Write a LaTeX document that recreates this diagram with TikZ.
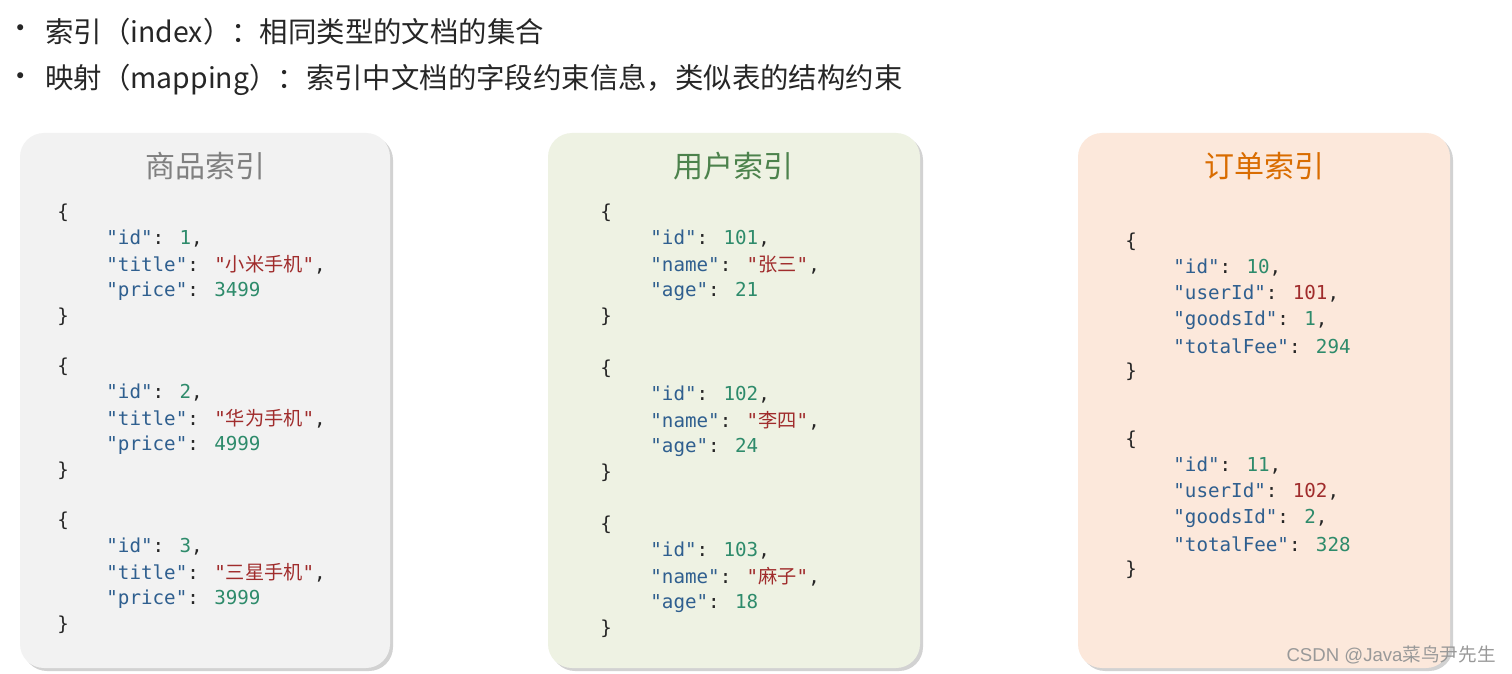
\documentclass[tikz,border=0pt]{standalone}
\usepackage{fontspec}
\setmainfont{Noto Sans CJK SC}
\newfontfamily\cjk{Noto Sans CJK SC}
\newfontfamily\mono{DejaVu Sans Mono}
\newfontfamily\wm{Liberation Sans}
\usetikzlibrary{shadows}
\definecolor{kc}{HTML}{2F5F8F}
\definecolor{sc}{HTML}{A02C2C}
\definecolor{nc}{HTML}{2E8B6B}
\definecolor{gbox}{HTML}{F2F2F2}
\definecolor{gnbox}{HTML}{EEF2E3}
\definecolor{obox}{HTML}{FCE8DB}
\newcommand{\jk}[1]{\textcolor{kc}{"#1"}}
\newcommand{\js}[1]{\textcolor{sc}{"{\cjk #1}"}}
\newcommand{\jn}[1]{\textcolor{nc}{#1}}
\begin{document}
\begin{tikzpicture}[x=0.5pt,y=-0.5pt,
  box/.style={rounded corners=12pt,drop shadow={shadow xshift=1.5pt,shadow yshift=-1.5pt,opacity=0.35}},
  ttl/.style={font=\cjk\fontsize{15}{18}\selectfont},
  cl/.style={anchor=west,inner sep=0,font=\mono\fontsize{9.6}{11}\selectfont,text=black!85},
  bl/.style={anchor=west,inner sep=0,font=\cjk\fontsize{14.2}{16}\selectfont,text=black!85}]
\useasboundingbox (0,0) rectangle (1512,674);
\fill[white] (0,0) rectangle (1512,674);
\node[bl] (b1) at (6,32) {•};
\node[bl] (t1) at (45,32) {索引（index）：相同类型的文档的集合};
\node[bl] (b2) at (6,80) {•};
\node[bl] (t2) at (45,80) {映射（mapping）：索引中文档的字段约束信息，类似表的结构约束};
\fill[gbox,box] (20,133) rectangle (390,668);
\fill[gnbox,box] (548,133) rectangle (920,668);
\fill[obox,box] (1078,133) rectangle (1450,668);
\node[ttl,text=black!50] (h1) at (205,166) {商品索引};
\node[ttl,text=green!30!black!70] (h2) at (733,166) {用户索引};
\node[ttl,text=orange!85!black] (h3) at (1264,166) {订单索引};
% goods
\foreach \y/\i/\t/\p in {213/1/小米手机/3499,367/2/华为手机/4999,521/3/三星手机/3999}{
  \node[cl] at (57,\y) {\{};
  \node[cl] at (106,\y+26) {\jk{id}: \jn{\i},};
  \node[cl] at (106,\y+52) {\jk{title}: \js{\t},};
  \node[cl] at (106,\y+78) {\jk{price}: \jn{\p}};
  \node[cl] at (57,\y+104) {\}};
}
% users
\foreach \y/\i/\t/\p in {213/101/张三/21,369/102/李四/24,525/103/麻子/18}{
  \node[cl] at (600,\y) {\{};
  \node[cl] at (650,\y+26) {\jk{id}: \jn{\i},};
  \node[cl] at (650,\y+52) {\jk{name}: \js{\t},};
  \node[cl] at (650,\y+78) {\jk{age}: \jn{\p}};
  \node[cl] at (600,\y+104) {\}};
}
% orders
\foreach \y/\i/\u/\g/\f in {242/10/101/1/294,440/11/102/2/328}{
  \node[cl] at (1125,\y) {\{};
  \node[cl] at (1173,\y+26) {\jk{id}: \jn{\i},};
  \node[cl] at (1173,\y+52) {\jk{userId}: \textcolor{sc}{\u},};
  \node[cl] at (1173,\y+78) {\jk{goodsId}: \jn{\g},};
  \node[cl] at (1173,\y+104) {\jk{totalFee}: \jn{\f}};
  \node[cl] at (1125,\y+130) {\}};
}
\node[anchor=east,inner sep=0,text=black!40,font=\wm\fontsize{9.3}{11}\selectfont] (wm) at (1496,655) {CSDN @Java{\cjk 菜鸟尹先生}};
\end{tikzpicture}
\end{document}
